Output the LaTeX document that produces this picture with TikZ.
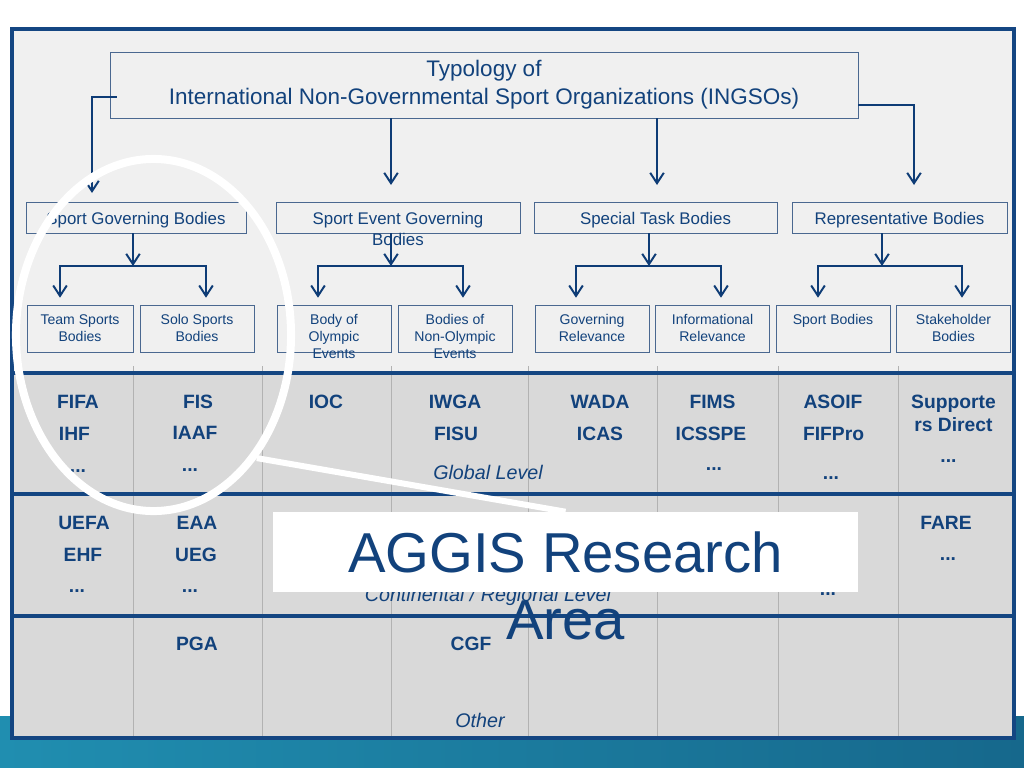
\documentclass[tikz,border=0pt]{standalone}
\usepackage{fontspec}
\setmainfont{Liberation Sans}
\usepackage{tikz}
\usetikzlibrary{arrows.meta,positioning,calc,shapes.geometric}
\definecolor{aggisblue}{RGB}{18,66,124}
\definecolor{arrowblue}{RGB}{14,60,118}
\definecolor{frameblue}{RGB}{20,70,130}
\definecolor{boxline}{RGB}{74,104,144}
\definecolor{topgray}{RGB}{240,240,240}
\definecolor{tablegray}{RGB}{217,217,217}
\definecolor{divgray}{RGB}{178,178,178}
\definecolor{tealleft}{RGB}{32,142,176}
\definecolor{tealright}{RGB}{22,104,140}
\newcommand{\cellstack}[1]{\begin{tabular}[t]{@{}c@{}}#1\end{tabular}}
\newcommand{\etcdots}{...}

\begin{document}
\begin{tikzpicture}[x=0.025cm, y=-0.025cm,
    titlebox/.style={draw=boxline, fill=topgray, minimum width=18.7cm, minimum height=1.65cm, align=center, text=aggisblue, font=\fontsize{16}{20}\selectfont},
    typebox/.style={draw=boxline, fill=topgray, minimum height=0.775cm, inner sep=0pt, text height=12pt, text depth=1.5pt, text=aggisblue, font=\fontsize{12}{14.4}\selectfont},
    subbox/.style={draw=boxline, fill=topgray, minimum width=2.85cm, minimum height=1.175cm, inner sep=0pt, text height=14.2pt, text depth=19.2pt, text=aggisblue, font=\fontsize{10}{12}\selectfont},
    arrow/.style={-{Straight Barb[length=2.6mm, width=3.4mm]}, line width=1.4pt, draw=arrowblue},
    orgname/.style={anchor=base, text=aggisblue, font=\fontsize{13.7}{17}\selectfont\bfseries},
    levelname/.style={anchor=base, text=aggisblue, font=\fontsize{14}{17}\selectfont\itshape},
    rowline/.style={draw=frameblue, line width=2.2pt},
    divider/.style={draw=divgray, line width=0.5pt},
    callout/.style={draw=white, line width=0.15cm}
]
\useasboundingbox (0,0) rectangle (1024,768);

% slide band and frame
\shade[left color=tealleft, right color=tealright] (0,716) rectangle (1024,768);
\fill[topgray] (12,29) rectangle (1014,373);
\fill[tablegray] (12,373) rectangle (1014,738);
\foreach \x in {133,262,391,528,657,778,898}
    \draw[divider] (\x,366) -- (\x,736);
\foreach \y in {373,494,616}
    \draw[rowline] (12,\y) -- (1014,\y);
\draw[frameblue, line width=2.2pt] (12,29) rectangle (1014,738);

% typology
\node[titlebox] (typology) at (484,85) {Typology of\\International Non-Governmental Sport Organizations (INGSOs)};

% main types
\node[typebox, minimum width=5.5cm] (sgb) at (136,217.5) {Sport Governing Bodies};
\node[typebox, minimum width=6.1cm] (segb) at (398,217.5) {\cellstack{Sport Event Governing\\Bodies}};
\node[typebox, minimum width=6.075cm] (stb) at (655.5,217.5) {Special Task Bodies};
\node[typebox, minimum width=5.375cm] (rb) at (899.5,217.5) {Representative Bodies};

% sub types
\node[subbox, minimum width=2.65cm] (tsb) at (80,328.5) {\cellstack{Team Sports\\Bodies}};
\node[subbox] (sos) at (197,328.5) {\cellstack{Solo Sports\\Bodies}};
\node[subbox] (bo) at (334,328.5) {\cellstack{Body of\\Olympic\\Events}};
\node[subbox] (nob) at (455,328.5) {\cellstack{Bodies of\\Non-Olympic\\Events}};
\node[subbox] (gr) at (592,328.5) {\cellstack{Governing\\Relevance}};
\node[subbox] (ir) at (712.5,328.5) {\cellstack{Informational\\Relevance}};
\node[subbox] (sb) at (833,328.5) {\cellstack{Sport Bodies}};
\node[subbox] (sh) at (953.5,328.5) {\cellstack{Stakeholder\\Bodies}};

% typology -> main types
\coordinate (a1) at (92,193);
\coordinate (a2) at (391,185);
\coordinate (a3) at (657,185);
\coordinate (a4) at (914,185);
\draw[arrow] ([shift={(7,12)}]typology.west) -| (a1);
\draw[arrow] (typology.south -| a2) -- (a2);
\draw[arrow] (typology.south -| a3) -- (a3);
\draw[arrow] ([shift={(0,20)}]typology.east) -| (a4);

% main types -> sub types
\coordinate (f1) at (133,266);
\coordinate (f2) at (391,266);
\coordinate (f3) at (649,266);
\coordinate (f4) at (882,266);
\draw[arrow] (sgb.south -| f1) -- (f1);
\draw[arrow] (f1) -| ([shift={(-20,-7)}]tsb.north);
\draw[arrow] (f1) -| ([shift={(9,-7)}]sos.north);
\draw[arrow] (segb.south -| f2) -- (f2);
\draw[arrow] (f2) -| ([shift={(-16,-7)}]bo.north);
\draw[arrow] (f2) -| ([shift={(8,-7)}]nob.north);
\draw[arrow] (stb.south -| f3) -- (f3);
\draw[arrow] (f3) -| ([shift={(-16,-7)}]gr.north);
\draw[arrow] (f3) -| ([shift={(8.5,-7)}]ir.north);
\draw[arrow] (rb.south -| f4) -- (f4);
\draw[arrow] (f4) -| ([shift={(-15,-7)}]sb.north);
\draw[arrow] (f4) -| ([shift={(8.5,-7)}]sh.north);

% organizations per level
\foreach \x/\y/\lbl [count=\i] in {
    78/408/FIFA, 74.5/440/IHF, 78/472/\etcdots, 198/408/FIS, 195/439/IAAF, 190/471/\etcdots,
    326/408/IOC, 455/408/IWGA, 456/440/FISU, 600/408/WADA, 600/440/ICAS,
    712.5/408/FIMS, 711/440/ICSSPE, 714/470/\etcdots, 833/408/ASOIF, 833.5/440/FIFPro,
    831/479/\etcdots, 953.5/408/{\cellstack{Supporte\\rs Direct}}, 948.5/462/\etcdots,
    84/529/UEFA, 83/561/EHF, 77/592/\etcdots, 197/529/EAA, 196/561/UEG, 190/592/\etcdots,
    828/595/\etcdots, 946/529/FARE, 948/560/\etcdots,
    197/650/PGA, 471/650/CGF}
    \node[orgname] (org\i) at (\x,\y) {\lbl};
\node[levelname] (global) at (488,479) {Global Level};
\node[levelname] (continental) at (488,601) {Continental / Regional Level};
\node[levelname] (other) at (480,727) {Other};

% research area
\node[ellipse, draw=white, line width=0.2cm, minimum width=6.875cm, minimum height=8.8cm, inner sep=0pt] (zone) at (153.5,335) {};
\node[fill=white, minimum width=14.625cm, minimum height=2cm, inner sep=0pt, text height=42.7pt, text depth=14.2pt, text=aggisblue, font=\fontsize{40}{48}\selectfont] (aggis) at (565.5,552) {\cellstack{AGGIS Research\\Area}};
\draw[callout] (zone.-50) -- (aggis.north);
\end{tikzpicture}
\end{document}
